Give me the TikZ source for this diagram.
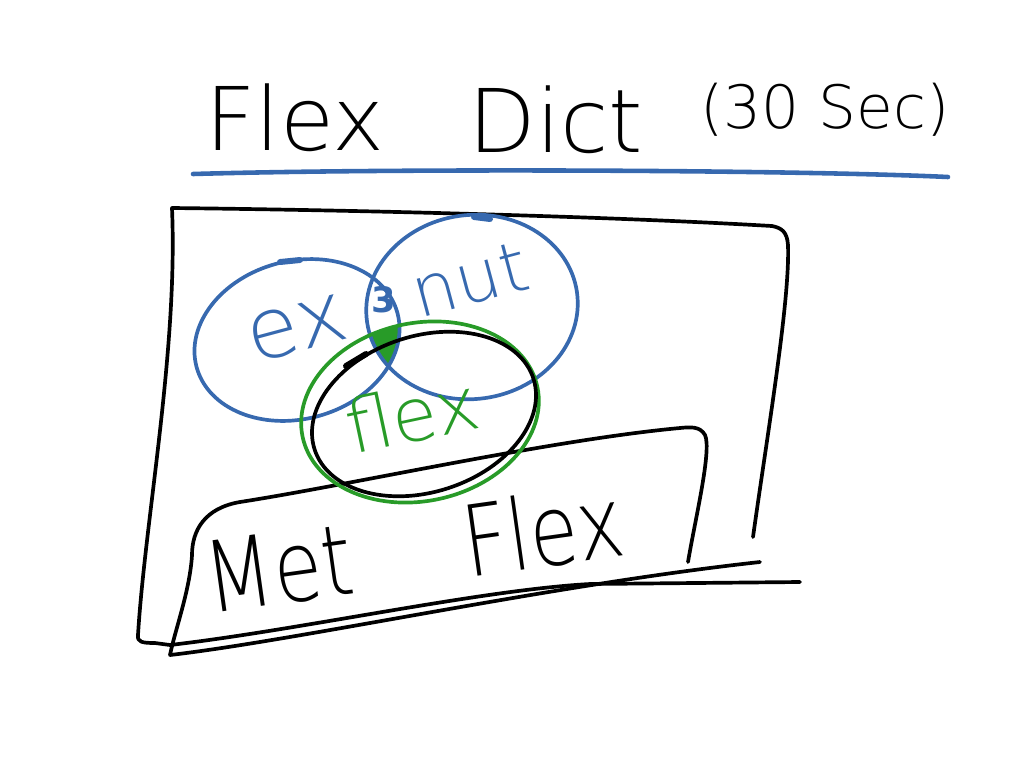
\documentclass[tikz,border=0pt]{standalone}
\usepackage{fontspec}
\newfontfamily\handfont{DejaVu Sans ExtraLight}
\newfontfamily\markfont{DejaVu Sans}
\definecolor{inkblue}{RGB}{55,105,175}
\definecolor{inkgreen}{RGB}{40,155,40}
\begin{document}
\begin{tikzpicture}[x=0.02cm, y=-0.02cm,
    pen/.style={line width=2.1pt, line cap=round, line join=round},
    scribble/.style={inner sep=0pt, font=\handfont}]
    \useasboundingbox (0,0) rectangle (1024,768);

    % Title and underline
    \node[scribble, anchor=base west, font=\handfont\fontsize{50}{56}\selectfont] (flexword) at (205,150) {Flex};
    \node[scribble, anchor=base west, font=\handfont\fontsize{50}{56}\selectfont] (dictword) at (468,152) {Dict};
    \node[scribble, anchor=base west, font=\handfont\fontsize{34}{40}\selectfont] (timeword) at (700,128) {(30 Sec)};
    \draw[pen, inkblue, line width=2.6pt] (193,174) .. controls (400,168) and (800,170) .. (948,177);

    % Outer box
    \draw[pen] (753,537) .. controls (768,430) and (790,300) .. (788,245)
      .. controls (787,232) and (782,228) .. (772,226)
      .. controls (600,216) and (350,210) .. (172,208)
      .. controls (178,350) and (145,520) .. (138,635)
      .. controls (137,642) and (142,643) .. (155,643) -- (170,645)
      .. controls (300,630) and (480,590) .. (590,584) -- (800,582);

    % Met Flex box
    \draw[pen] (688,562) .. controls (695,520) and (712,450) .. (705,435)
      .. controls (700,426) and (690,427) .. (680,428)
      .. controls (550,440) and (350,485) .. (240,502)
      .. controls (205,508) and (192,530) .. (192,555)
      .. controls (190,590) and (175,630) .. (170,655)
      .. controls (300,640) and (550,585) .. (760,562);

    % Shared region of ex, nut and flex
    \begin{scope}
      \clip[rotate around={15:(297,340)}] (297,340) ellipse [x radius=104, y radius=79];
      \clip[rotate around={8:(472,307)}] (472,307) ellipse [x radius=106, y radius=92];
      \fill[inkgreen, rotate around={12:(420,412)}] (420,412) ellipse [x radius=120, y radius=89];
    \end{scope}

    % Circles
    \draw[pen, inkblue, rotate around={15:(297,340)}] (297,340) ellipse [x radius=104, y radius=79];
    \draw[pen, inkblue, rotate around={8:(472,307)}] (472,307) ellipse [x radius=106, y radius=92];
    \draw[pen, inkgreen, rotate around={12:(420,412)}] (420,412) ellipse [x radius=120, y radius=89];
    \draw[pen, rotate around={18:(424,414)}] (424,414) ellipse [x radius=115, y radius=78];
    \draw[pen, line width=3.4pt] (346,366) -- (366,354);
    \draw[pen, inkblue, line width=3.4pt] (280,262) -- (300,260);
    \draw[pen, inkblue, line width=3.4pt] (474,217) -- (490,219);

    % Labels
    \node[scribble, inkblue, rotate=15, font=\handfont\fontsize{48}{52}\selectfont] (exlabel) at (297,328) {ex};
    \node[scribble, inkblue, rotate=15, font=\handfont\fontsize{40}{44}\selectfont] (nutlabel) at (470,280) {nut};
    \node[scribble, inkblue, font=\markfont\bfseries\fontsize{20}{22}\selectfont] (shared) at (384,300) {3};
    \node[scribble, inkgreen, rotate=12, font=\handfont\fontsize{42}{46}\selectfont] (flexlabel) at (412,414) {flex};
    \node[scribble, rotate=8, xscale=0.8, font=\handfont\fontsize{56}{60}\selectfont] (metflex) at (414,548) {Met\hspace{80pt}Flex};
\end{tikzpicture}
\end{document}
